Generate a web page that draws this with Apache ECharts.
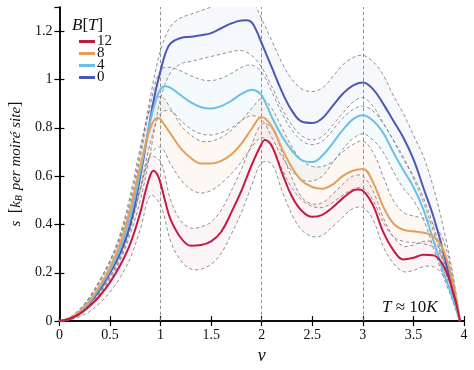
<!DOCTYPE html>
<html><head><meta charset="utf-8">
<script src="https://cdn.jsdelivr.net/npm/echarts@6/dist/echarts.min.js"></script>
<style>html,body{margin:0;padding:0;background:#fff}#c{width:474px;height:370px}</style>
</head><body><div id="c"></div>
<script>
// common grid for uncertainty bands
const X = [0,0.1,0.2,0.3,0.4,0.5,0.6,0.7,0.8,0.9,1.0,1.1,1.2,1.3,1.4,1.5,1.6,1.7,1.8,1.9,2.0,2.1,2.2,2.3,2.4,2.5,2.6,2.7,2.8,2.9,3.0,3.1,3.2,3.3,3.4,3.5,3.6,3.7,3.8,3.9,3.96];

// B = 0 T band
const b0Hi = [0,0.012,0.045,0.1,0.17,0.25,0.35,0.5,0.7,0.93,1.12,1.22,1.255,1.27,1.285,1.3,1.32,1.34,1.35,1.33,1.25,1.16,1.07,1.0,0.96,0.95,0.965,1.01,1.06,1.09,1.1,1.075,1.02,0.935,0.86,0.77,0.68,0.55,0.38,0.17,0];
const b0Lo = [0,0.006,0.025,0.06,0.11,0.17,0.25,0.36,0.5,0.7,0.92,1.03,1.065,1.075,1.085,1.095,1.105,1.115,1.12,1.1,1.05,0.97,0.88,0.81,0.765,0.75,0.765,0.81,0.86,0.905,0.925,0.89,0.82,0.75,0.68,0.59,0.49,0.37,0.23,0.07,0];
// B = 4 T band
const b4Hi = [0,0.012,0.045,0.095,0.16,0.24,0.34,0.48,0.68,0.9,1.04,1.05,1.035,1.015,1.0,0.995,1.005,1.025,1.05,1.06,1.03,0.95,0.86,0.79,0.745,0.73,0.745,0.79,0.84,0.875,0.89,0.87,0.82,0.75,0.67,0.6,0.51,0.39,0.25,0.1,0];
const b4Lo = [0,0.007,0.028,0.065,0.115,0.18,0.26,0.38,0.55,0.74,0.86,0.87,0.83,0.795,0.775,0.77,0.78,0.8,0.83,0.85,0.835,0.76,0.68,0.62,0.585,0.58,0.6,0.655,0.71,0.755,0.775,0.75,0.7,0.62,0.55,0.5,0.42,0.3,0.18,0.07,0];
// B = 8 T band
const b8Hi = [0,0.015,0.05,0.1,0.17,0.25,0.36,0.52,0.72,0.88,0.93,0.88,0.81,0.77,0.745,0.745,0.76,0.79,0.83,0.88,0.92,0.88,0.8,0.72,0.665,0.64,0.64,0.66,0.7,0.73,0.745,0.7,0.6,0.5,0.45,0.435,0.425,0.4,0.33,0.16,0];
const b8Lo = [0,0.008,0.03,0.068,0.12,0.185,0.27,0.39,0.55,0.69,0.72,0.65,0.585,0.545,0.53,0.54,0.57,0.61,0.66,0.72,0.76,0.72,0.63,0.55,0.5,0.475,0.47,0.49,0.52,0.545,0.55,0.5,0.41,0.35,0.33,0.325,0.32,0.305,0.25,0.12,0];
// B = 12 T band
const b12Hi = [0,0.013,0.04,0.08,0.135,0.2,0.29,0.4,0.54,0.68,0.66,0.5,0.415,0.385,0.39,0.41,0.46,0.54,0.63,0.73,0.815,0.8,0.7,0.59,0.51,0.485,0.49,0.525,0.565,0.6,0.6,0.54,0.43,0.35,0.31,0.315,0.33,0.325,0.27,0.13,0];
const b12Lo = [0,0.005,0.018,0.04,0.075,0.12,0.18,0.26,0.38,0.52,0.48,0.33,0.25,0.215,0.215,0.235,0.28,0.36,0.45,0.56,0.655,0.65,0.54,0.44,0.375,0.35,0.355,0.39,0.43,0.465,0.47,0.42,0.31,0.24,0.205,0.21,0.225,0.225,0.185,0.09,0];

// main curves
const b0X = [0,0.1,0.2,0.3,0.4,0.5,0.6,0.7,0.8,0.9,0.95,1.0,1.05,1.1,1.2,1.3,1.4,1.5,1.6,1.7,1.8,1.85,1.9,1.95,2.0,2.1,2.2,2.3,2.4,2.5,2.6,2.7,2.8,2.9,3.0,3.1,3.2,3.3,3.4,3.5,3.6,3.7,3.8,3.9,3.96];
const b0Y = [0,0.008,0.033,0.075,0.13,0.2,0.28,0.4,0.6,0.84,0.95,1.035,1.11,1.15,1.172,1.177,1.183,1.192,1.212,1.232,1.244,1.245,1.237,1.2,1.15,1.05,0.95,0.87,0.825,0.82,0.84,0.89,0.94,0.975,0.988,0.96,0.9,0.83,0.76,0.67,0.55,0.43,0.28,0.1,0];
const b4X = [0,0.1,0.2,0.3,0.4,0.5,0.6,0.7,0.8,0.9,0.95,1.0,1.05,1.1,1.2,1.3,1.4,1.5,1.6,1.7,1.8,1.9,1.95,2.0,2.1,2.2,2.3,2.4,2.5,2.6,2.7,2.8,2.9,3.0,3.1,3.2,3.3,3.4,3.5,3.6,3.7,3.8,3.9,3.96];
const b4Y = [0,0.01,0.037,0.08,0.14,0.21,0.3,0.43,0.62,0.83,0.91,0.96,0.972,0.965,0.935,0.905,0.885,0.88,0.89,0.912,0.94,0.957,0.952,0.935,0.845,0.765,0.705,0.665,0.658,0.685,0.735,0.79,0.835,0.852,0.83,0.78,0.7,0.625,0.555,0.46,0.33,0.2,0.08,0];
const b8X = [0,0.1,0.2,0.3,0.4,0.5,0.6,0.7,0.8,0.9,0.97,1.0,1.1,1.2,1.3,1.4,1.5,1.6,1.7,1.8,1.9,2.0,2.1,2.2,2.3,2.4,2.5,2.6,2.7,2.8,2.9,3.0,3.1,3.2,3.3,3.4,3.5,3.6,3.7,3.8,3.9,3.96];
const b8Y = [0,0.012,0.04,0.085,0.145,0.22,0.32,0.46,0.64,0.8,0.842,0.835,0.775,0.715,0.675,0.652,0.652,0.663,0.69,0.735,0.795,0.845,0.805,0.715,0.635,0.58,0.555,0.548,0.565,0.6,0.622,0.63,0.575,0.475,0.405,0.378,0.372,0.366,0.35,0.29,0.14,0];
const b12X = [0,0.1,0.2,0.3,0.4,0.5,0.6,0.7,0.8,0.85,0.9,0.93,0.97,1.0,1.05,1.1,1.2,1.3,1.4,1.5,1.6,1.7,1.8,1.9,2.0,2.03,2.1,2.2,2.3,2.4,2.5,2.6,2.7,2.8,2.9,2.95,3.0,3.1,3.2,3.3,3.4,3.5,3.6,3.7,3.8,3.9,3.96];
const b12Y = [0,0.01,0.03,0.062,0.105,0.16,0.23,0.32,0.45,0.535,0.605,0.622,0.605,0.57,0.49,0.42,0.345,0.312,0.315,0.33,0.37,0.45,0.54,0.645,0.735,0.75,0.725,0.615,0.515,0.455,0.432,0.44,0.47,0.508,0.54,0.545,0.54,0.48,0.37,0.295,0.255,0.262,0.275,0.272,0.227,0.11,0];

const xTicks = [0,0.5,1,1.5,2,2.5,3,3.5,4];
const yTicks = [0,0.2,0.4,0.6,0.8,1,1.2];
const vLines = [1,2,3];
const legendNames = ['12','8','4','0'];

const COL = {'0':'#4b59b5','4':'#6cc0e6','8':'#e59f5c','12':'#c31c42'};
const FILL = {'0':'rgba(75,89,181,0.045)','4':'rgba(108,192,230,0.07)','8':'rgba(229,159,92,0.07)','12':'rgba(195,28,66,0.045)'};
const SERIF = '"Liberation Serif","DejaVu Serif",serif';
const SM = 0.35;

function band(key, lo, hi){
  return {
    type:'custom', silent:true, clip:true, z:1,
    data: X.map((x,i)=>[x, lo[i], hi[i]]),
    encode:{x:0, y:[1,2]},
    renderItem:function(params, api){
      if (params.dataIndex !== 0) return null;
      const up = X.map((x,i)=>api.coord([x, hi[i]]));
      const dn = X.map((x,i)=>api.coord([x, lo[i]]));
      const lineSt = {stroke:'#767676', lineWidth:0.8, lineDash:[3.5,2.5], fill:null};
      return {type:'group', children:[
        {type:'polygon', shape:{points: up.concat(dn.slice().reverse()), smooth:SM}, style:{fill:FILL[key], stroke:null}},
        {type:'polyline', shape:{points: up, smooth:SM}, style:lineSt},
        {type:'polyline', shape:{points: dn, smooth:SM}, style:lineSt}
      ]};
    }
  };
}
function main(key, xs, ys){
  return {type:'line', name:key, color:COL[key], data:xs.map((x,i)=>[x,ys[i]]), smooth:0.4, symbol:'none', lineStyle:{color:COL[key], width:2}, z:5};
}

const series = [band('0', b0Lo, b0Hi), band('4', b4Lo, b4Hi), band('8', b8Lo, b8Hi), band('12', b12Lo, b12Hi),
  main('0', b0X, b0Y), main('4', b4X, b4Y), main('8', b8X, b8Y), main('12', b12X, b12Y)];
series[series.length-1].markLine = {silent:true, symbol:['none','none'], label:{show:false},
  lineStyle:{color:'#767676', width:0.8, type:[3.5,2.5]}, data:vLines.map(v=>({xAxis:v}))};

const axisCommon = {axisLine:{show:true, lineStyle:{color:'#000', width:1.5}}, axisTick:{show:true, inside:true, length:5, lineStyle:{color:'#000', width:1.2}}, splitLine:{show:false}};

const chart = echarts.init(document.getElementById('c'));
chart.setOption({
  animation:false,
  backgroundColor:'#fff',
  grid:{left:58, right:10, top:7, bottom:44},
  xAxis:[
    Object.assign({type:'value', min:0, max:4, interval:0.5, position:'bottom',
      axisLabel:{fontFamily:SERIF, fontSize:14, color:'#111', margin:7, formatter:v=>xTicks.includes(v)?String(v):''},
      name:'ν', nameLocation:'middle', nameGap:22, nameTextStyle:{fontFamily:SERIF, fontSize:18, fontStyle:'italic', color:'#111'}}, axisCommon),
    Object.assign({type:'value', min:0, max:4, interval:0.5, position:'top', axisLabel:{show:false}}, axisCommon)
  ],
  yAxis:[
    Object.assign({type:'value', min:0, max:1.3, interval:0.2, position:'left',
      axisLabel:{fontFamily:SERIF, fontSize:14, color:'#111', margin:7, showMaxLabel:false, formatter:v=>{const t=yTicks.find(a=>Math.abs(a-v)<1e-6); return t===undefined?'':String(t);}},
      name:'{i|s}  {n|[}{i|k}{sub|B}{i| per moiré site}{n|]}', nameLocation:'middle', nameGap:34, nameRotate:90,
      nameTextStyle:{fontFamily:SERIF, fontSize:15, color:'#111', rich:{
        i:{fontFamily:SERIF, fontSize:15, fontStyle:'italic', color:'#111'},
        n:{fontFamily:SERIF, fontSize:16, color:'#111'},
        sub:{fontFamily:SERIF, fontSize:10, fontStyle:'italic', color:'#111', verticalAlign:'bottom', padding:[0,1,0,0]}
      }}}, axisCommon),
    Object.assign({type:'value', min:0, max:1.3, interval:0.2, position:'right', axisLabel:{show:false}}, axisCommon)
  ],
  legend:{orient:'vertical', left:74, top:29, itemWidth:16, itemHeight:3, itemGap:-3, icon:'rect', data:legendNames,
    textStyle:{fontFamily:SERIF, fontSize:15, color:'#111', lineHeight:12, padding:[0,0,0,-3]}},
  graphic:[
    {type:'text', left:72, top:17, style:{text:'{i|B}{n|[}{i|T}{n|]}', rich:{i:{fontFamily:SERIF, fontSize:17, fontStyle:'italic', fill:'#111'}, n:{fontFamily:SERIF, fontSize:17, fill:'#111'}}}},
    {type:'text', left:382, top:299, style:{text:'{i|T}{n| ≈ 10}{i|K}', rich:{i:{fontFamily:SERIF, fontSize:17, fontStyle:'italic', fill:'#111'}, n:{fontFamily:SERIF, fontSize:17, fill:'#111'}}}}
  ],
  series:series
});
</script></body></html>
